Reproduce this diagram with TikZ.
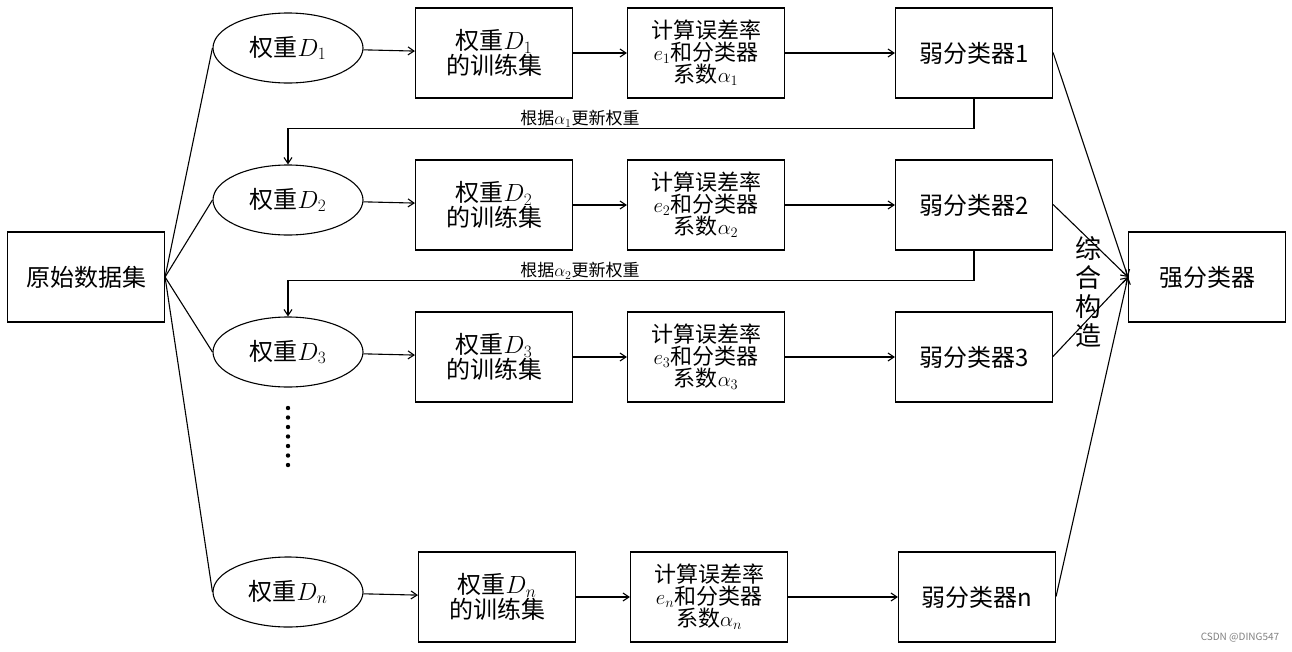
\documentclass[tikz,border=0pt]{standalone}
\usepackage{fontspec}
\setmainfont{Noto Sans CJK SC}
\usetikzlibrary{shapes.geometric,arrows.meta}
\begin{document}
\begin{tikzpicture}[x=1pt,y=-1pt,line width=1.1pt,
 box/.style={draw,minimum width=157pt,minimum height=90pt,align=center,font=\fontsize{24}{25}\selectfont,inner sep=1pt},
 cbox/.style={box,font=\fontsize{22}{22}\selectfont},
 ell/.style={draw,ellipse,minimum width=150pt,minimum height=70pt,font=\fontsize{24}{25}\selectfont},
 arr/.style={-{Straight Barb[length=6pt,width=8pt]}},
 lbl/.style={font=\fontsize{17}{18}\selectfont,inner sep=1pt}]
\useasboundingbox (0,0) rectangle (1292,651);
\node[box] (src) at (86,277) {原始数据集};
\node[box] (strong) at (1207,277) {强分类器};
\foreach \i/\y/\s/\dx in {1/48/1/0,2/200/2/0,3/352/3/0,n/592/n/3}{
 \node[ell] (e\i) at (288,\y) {权重$D_{\s}$};
 \node[box] (t\i) at (494+\dx,\y+5) {权重$D_{\s}$\\的训练集};
 \node[cbox] (c\i) at (706+\dx,\y+5) {计算误差率\\$e_{\s}$和分类器\\系数$\alpha_{\s}$};
 \node[box] (w\i) at (974+\dx,\y+5) {弱分类器\s};
 \draw (src.east) -- (e\i.west);
 \draw[arr] (e\i) -- (t\i);
 \draw[arr] (t\i) -- (c\i);
 \draw[arr] (c\i) -- (w\i);
 \draw[arr] ([yshift=-45pt]w\i.north east) -- (strong.west);
}
\foreach \a/\b/\s in {1/2/1,2/3/2}{
 \draw[arr] (w\a.south) -- ++(0,30) coordinate (k\a) -| (e\b.north);
 \node[lbl,above] at (580,0 |- k\a) {根据$\alpha_{\s}$更新权重};
}
\node[font=\fontsize{26}{29}\selectfont,align=center,inner sep=1pt] (z) at (1088,292) {综\\合\\构\\造};
\foreach \k in {0,...,6} \fill (288,408+\k*9.5) circle (2.2pt);
\node[font=\fontsize{10}{12}\selectfont,text=gray] at (1240,638) {CSDN @DING547};
\end{tikzpicture}
\end{document}
